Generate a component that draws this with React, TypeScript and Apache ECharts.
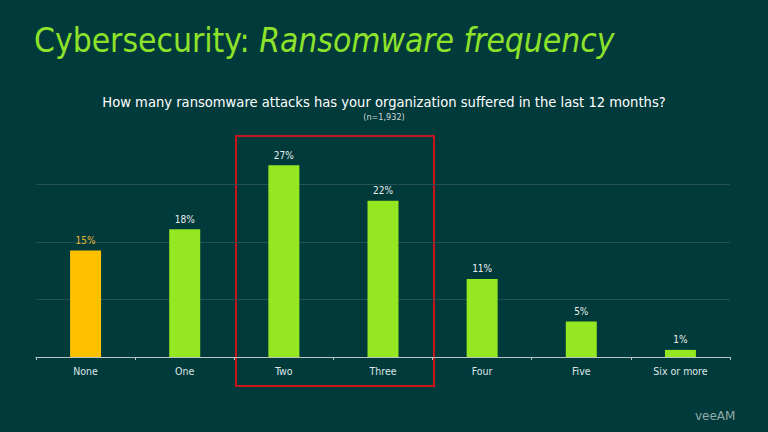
import React, { useEffect, useRef } from "react";
import * as echarts from "echarts";

const categories = ["None", "One", "Two", "Three", "Four", "Five", "Six or more"];
const values = [15, 18, 27, 22, 11, 5, 1];
const highlightIndex = 0;
const titleMain = "Cybersecurity: ";
const titleItalic = "Ransomware frequency";
const subtitle = "How many ransomware attacks has your organization suffered in the last 12 months?";
const sampleNote = "(n=1,932)";

const BG = "#013a3b";
const GREEN = "#95e821";
const ORANGE = "#ffc000";
const FONT = "'DejaVu Sans Condensed', 'DejaVu Sans', sans-serif";

export default function App() {
  const ref = useRef<HTMLDivElement>(null);
  useEffect(() => {
    if (!ref.current) return;
    const chart = echarts.init(ref.current, undefined, { renderer: "svg" });
    chart.setOption({
      animation: false,
      backgroundColor: BG,
      textStyle: { fontFamily: FONT },
      title: [
        {
          text: `{a|${titleMain}}{b|${titleItalic}}`,
          left: 29,
          top: 19,
          textStyle: {
            rich: {
              a: { fontFamily: FONT, fontSize: 33.3, fontWeight: "normal", color: "#8ee32a" },
              b: { fontFamily: FONT, fontSize: 33.3, fontWeight: "normal", color: "#8ee32a", fontStyle: "italic" },
            },
          },
        },
        {
          text: subtitle,
          left: "center",
          top: 89,
          textStyle: { fontFamily: FONT, fontSize: 14.6, fontWeight: "normal", color: "#ffffff" },
        },
        {
          text: sampleNote,
          left: "center",
          top: 107,
          textStyle: { fontFamily: FONT, fontSize: 9, fontWeight: "normal", color: "#d0d8d8" },
        },
      ],
      grid: { left: 36, right: 38, top: 127, bottom: 75 },
      xAxis: {
        type: "category",
        data: categories,
        axisLine: { lineStyle: { color: "#b8c6c6", width: 1 } },
        axisTick: { show: true, length: 3, lineStyle: { color: "#b8c6c6" } },
        axisLabel: { color: "#dfe6e6", fontSize: 10.5, fontFamily: FONT, margin: 8 },
      },
      yAxis: {
        type: "value",
        min: 0,
        max: 32.4,
        interval: 8.1,
        axisLabel: { show: false },
        axisLine: { show: false },
        axisTick: { show: false },
        splitLine: {
          lineStyle: {
            color: ["#245252", "#245252", "#245252", "#245252", "rgba(0,0,0,0)"],
            width: 1,
          },
        },
      },
      series: [
        {
          type: "bar",
          barWidth: 31,
          data: values.map((v, i) => ({
            value: v,
            itemStyle: { color: i === highlightIndex ? ORANGE : GREEN },
            label: { color: i === highlightIndex ? "#e8b830" : "#e8eeee" },
          })),
          label: {
            show: true,
            position: "top",
            distance: 5,
            fontSize: 10,
            fontFamily: FONT,
            formatter: (p: any) => `${p.value}%`,
          },
        },
      ],
      graphic: [
        {
          type: "rect",
          shape: { x: 236, y: 136, width: 198, height: 250 },
          style: { fill: "none", stroke: "#c8151b", lineWidth: 2 },
        },
        {
          type: "text",
          left: 695,
          top: 410,
          style: { text: "veeAM", fill: "#93aaaa", fontSize: 12, fontFamily: "'DejaVu Sans', sans-serif" },
        },
      ],
    });
    return () => chart.dispose();
  }, []);
  return (
    <div
      ref={ref}
      style={{ position: "fixed", left: 0, top: 0, width: 768, height: 432 }}
    />
  );
}
